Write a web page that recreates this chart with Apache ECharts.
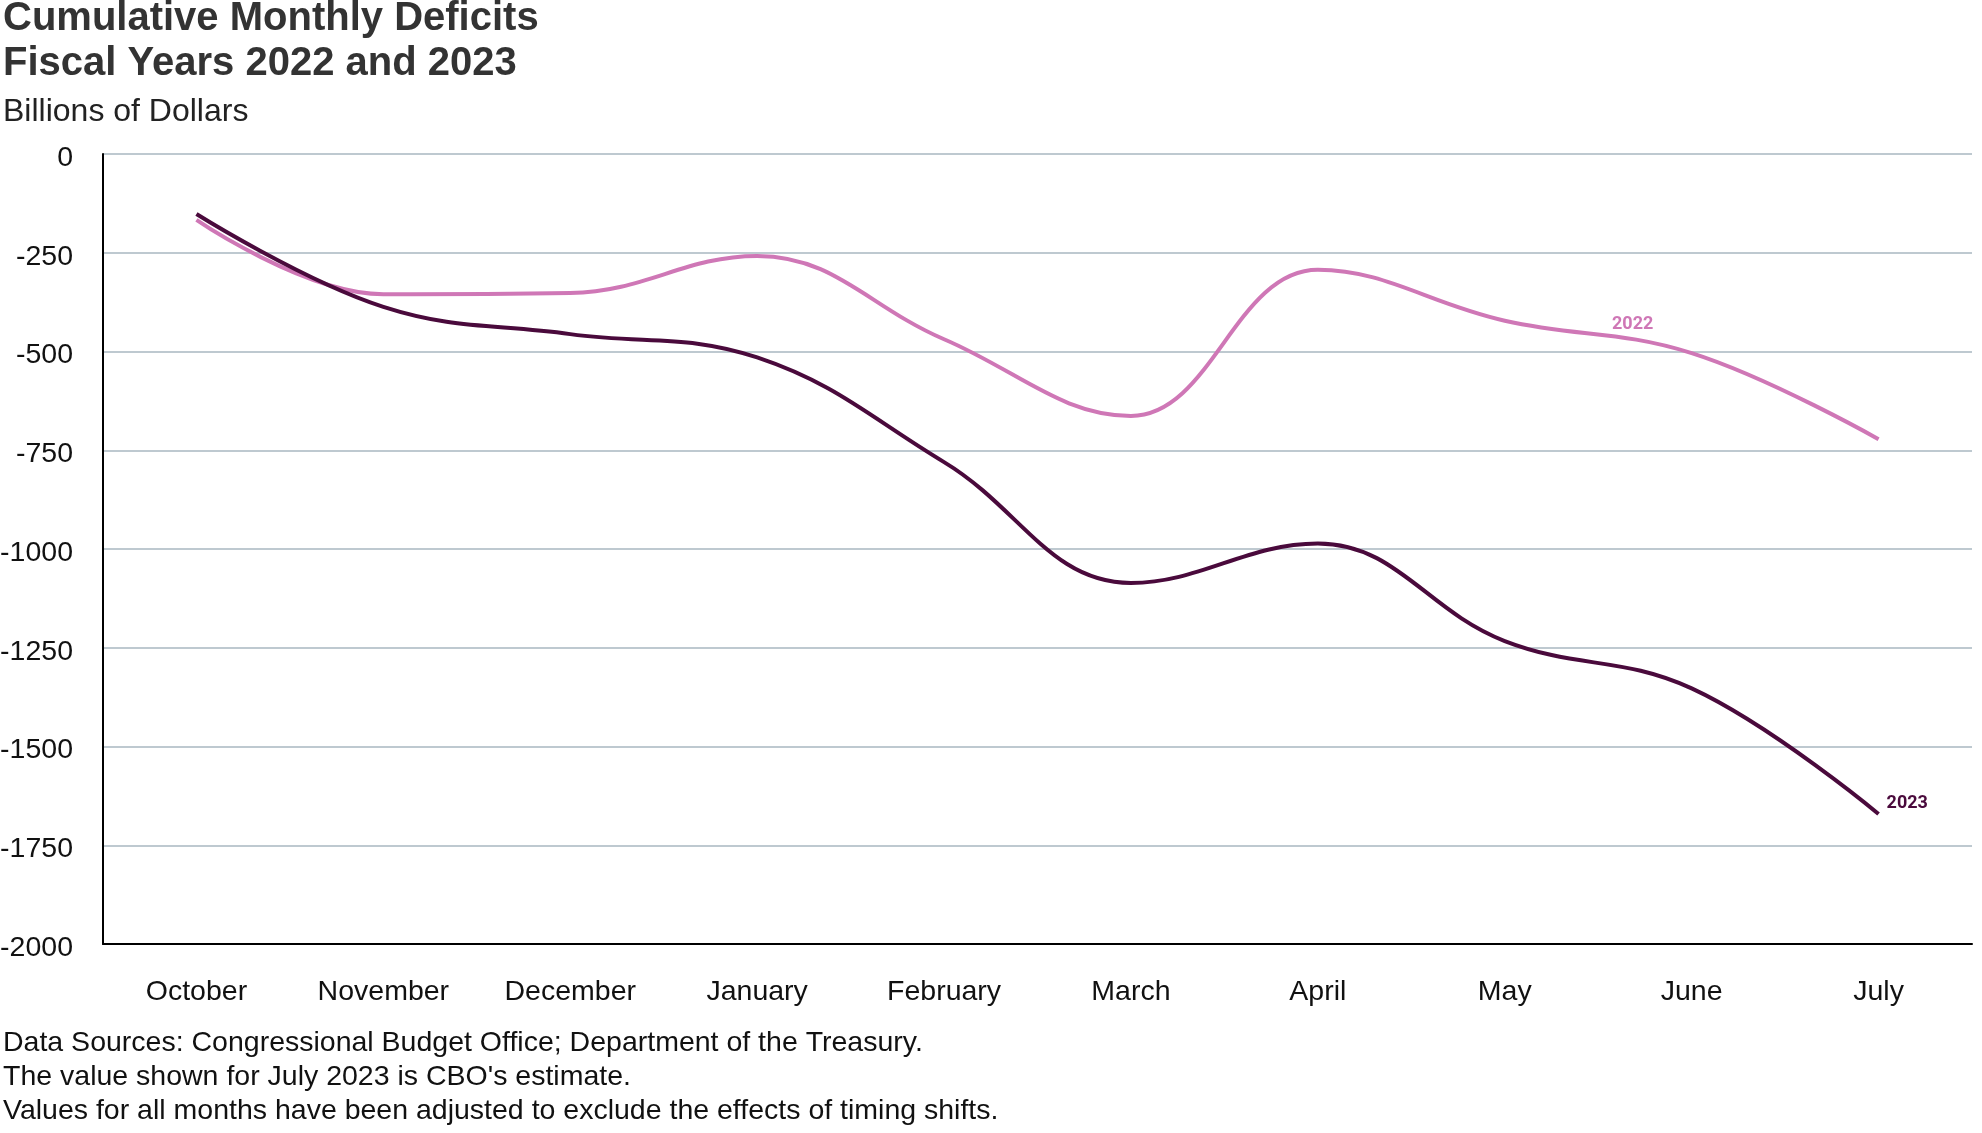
<!DOCTYPE html>
<html>
<head>
<meta charset="utf-8">
<script src="https://cdn.jsdelivr.net/npm/echarts@6/dist/echarts.min.js"></script>
<style>
  html, body { margin: 0; padding: 0; background: #fff; }
  #chart { width: 1982px; height: 1133px; }
</style>
</head>
<body>
<div id="chart"></div>
<script>
const months = ['October', 'November', 'December', 'January', 'February', 'March', 'April', 'May', 'June', 'July']
const deficits2022 = [-167, -355, -352, -258, -469, -663, -293, -422, -504, -722]
const deficits2023 = [-152, -387, -456, -515, -780, -1086, -986, -1233, -1353, -1671]
const yTicks = { min: -2000, max: 0, step: 250 }
const notes = [
  'Data Sources: Congressional Budget Office; Department of the Treasury.',
  "The value shown for July 2023 is CBO's estimate.",
  'Values for all months have been adjusted to exclude the effects of timing shifts.',
]

const font = '"Liberation Sans", Arial, sans-serif'
const pink = '#cf77b6'
const plum = '#4a0a3c'

const chart = echarts.init(document.getElementById('chart'))

// only the June point of 2022 carries the series label
const data2022 = deficits2022.map((v, i) => i === 8
  ? { value: v, label: { show: true, formatter: '2022', position: 'top', offset: [-59, -15], color: pink, fontSize: 18, fontWeight: 'bold', fontFamily: 'Roboto, sans-serif' } }
  : v)

chart.setOption({
  animation: false,
  backgroundColor: '#fff',
  title: [
    {
      text: 'Cumulative Monthly Deficits\nFiscal Years 2022 and 2023',
      left: -2, top: -9,
      textStyle: { fontFamily: font, fontSize: 40, fontWeight: 'bold', color: '#333', lineHeight: 45 },
    },
    {
      text: 'Billions of Dollars',
      left: -2, top: 91,
      textStyle: { fontFamily: font, fontSize: 32, fontWeight: 'normal', color: '#222', lineHeight: 32 },
    },
    {
      text: notes.join('\n'),
      left: -2, top: 1021,
      textStyle: { fontFamily: font, fontSize: 28.5, fontWeight: 'normal', color: '#111', lineHeight: 34 },
    },
  ],
  grid: { left: 103, right: 10, top: 154, bottom: 189, outerBoundsMode: 'none' },
  xAxis: {
    type: 'category',
    data: months,
    axisLine: { onZero: false, lineStyle: { color: '#000', width: 2 } },
    axisTick: { inside: true, length: 14, alignWithLabel: true, lineStyle: { color: '#000', width: 2 } },
    axisLabel: { margin: 34, fontFamily: font, fontSize: 28.5, color: '#111' },
    splitLine: { show: false },
  },
  yAxis: {
    type: 'value',
    min: yTicks.min,
    max: yTicks.max,
    interval: yTicks.step,
    axisLine: { show: true, lineStyle: { color: '#000', width: 2 } },
    axisTick: { show: false },
    // labels sit a little below their gridlines in the original
    axisLabel: { margin: 30, fontFamily: font, fontSize: 28.5, color: '#111', verticalAlign: 'top', lineHeight: 8, formatter: (v) => String(v) },
    splitLine: { lineStyle: { color: '#a9b7c1', width: 1.5 } },
  },
  series: [
    {
      name: '2022',
      type: 'line',
      data: data2022,
      smooth: 0.4,
      symbol: 'circle',
      symbolSize: 0,
      showSymbol: true,
      lineStyle: { color: pink, width: 4 },
      itemStyle: { color: pink },
      label: { show: false },
    },
    {
      name: '2023',
      type: 'line',
      data: deficits2023,
      smooth: 0.4,
      symbol: 'circle',
      symbolSize: 0,
      showSymbol: true,
      lineStyle: { color: plum, width: 4 },
      itemStyle: { color: plum },
      endLabel: { show: true, formatter: '2023', offset: [0, -11], color: plum, fontSize: 18, fontWeight: 'bold', fontFamily: 'Roboto, sans-serif' },
    },
  ],
})
</script>
</body>
</html>
